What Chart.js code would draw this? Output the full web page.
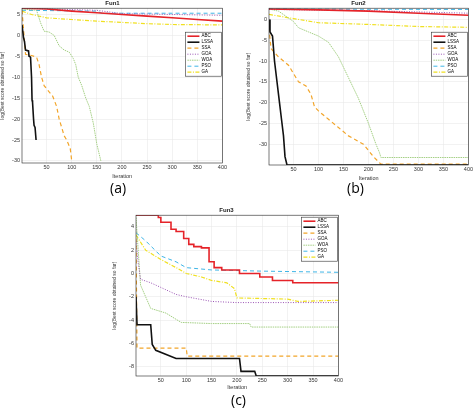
<!DOCTYPE html>
<html><head><meta charset="utf-8">
<script src="https://cdn.jsdelivr.net/npm/chart.js@4/dist/chart.umd.min.js"></script>
<style>
body{margin:0;background:#fff;width:474px;height:410px;position:relative;overflow:hidden;font-family:"Liberation Sans",Arial,sans-serif}
.c{position:absolute}
.lab{position:absolute;font-size:14px;color:#000;font-family:"Open Sans",sans-serif}
</style></head><body>
<div class="c" style="left:0;top:0;width:228px;height:180px"><canvas id="a"></canvas></div>
<div class="c" style="left:246px;top:0;width:228px;height:182px"><canvas id="b"></canvas></div>
<div class="c" style="left:112px;top:207px;width:232px;height:184px"><canvas id="c"></canvas></div>
<div class="lab" style="left:110px;top:178px">(a)</div>
<div class="lab" style="left:347px;top:178px">(b)</div>
<div class="lab" style="left:231px;top:390px">(c)</div>
<script>
const names=["ABC","LSSA","SSA","GOA","WOA","PSO","GA"];
const xTicks=[50,100,150,200,250,300,350,400];
// Fun1
const f1_ABC_x=[1,50,100,150,200,250,300,350,400], f1_ABC_y=[6.5,6.3,5.8,5.4,5,4.6,4.2,3.8,3.4];
const f1_LSSA_x=[1,4,6,8,14,15,18,20,21,22,24,25,27,29], f1_LSSA_y=[2.5,-0.5,-1.5,-3.5,-3.7,-5,-5.2,-10,-15.5,-16,-20,-21.5,-22,-25];
const f1_SSA_x=[1,3,5,8,20,30,35,40,45,55,62,70,75,80,85,90,97,100], f1_SSA_y=[6,3,0,-4.5,-4.8,-5.2,-7,-10,-12,-13.5,-14.5,-17,-20,-22,-24,-25,-27,-30];
const f1_GOA_x=[1,150,200,400], f1_GOA_y=[6.5,6,5.2,4.8];
const f1_WOA_x=[1,30,38,45,55,65,75,85,95,103,108,113,120,128,135,143,150,158], f1_WOA_y=[6.3,6,3,1,0.8,0,-2.5,-3.5,-4,-5.5,-7,-10,-12,-15,-17,-21,-26,-30];
const f1_PSO_x=[1,150,160,400], f1_PSO_y=[6,5.8,5.3,5.3];
const f1_GA_x=[1,20,50,100,150,200,250,300,400], f1_GA_y=[5.8,5,4.2,3.8,3.4,3.1,2.8,2.6,2.5];
// Fun2
const f2_ABC_x=[1,100,200,300,400], f2_ABC_y=[2.5,2.3,2,1.5,1];
const f2_LSSA_x=[1,3,8,12,18,22,26,30,33,37,400], f2_LSSA_y=[0,-3,-4,-10,-16,-20,-24,-28,-33,-35,-35];
const f2_SSA_x=[1,5,20,40,50,60,75,85,92,100,120,140,160,190,210,225,400], f2_SSA_y=[-2,-7,-9,-11,-13,-15,-16,-18,-21,-22,-24,-26,-28,-30,-33,-34.8,-34.8];
const f2_GOA_x=[1,200,400], f2_GOA_y=[2.4,2.1,1.5];
const f2_WOA_x=[1,20,50,60,80,100,120,140,160,180,200,215,222,225,400], f2_WOA_y=[2.5,2,-0.5,-2,-3,-4,-5.5,-9,-14,-19,-25,-30,-32,-33.2,-33.2];
const f2_PSO_x=[1,400], f2_PSO_y=[2.5,2.4];
const f2_GA_x=[1,50,100,200,300,400], f2_GA_y=[1.2,0.2,-0.8,-1.2,-1.7,-1.9];
// Fun3
const f3_ABC_x=[1,45,50,70,80,95,105,115,130,145,155,170,205,245,270,310,370,400], f3_ABC_y=[5,5,4.8,4.4,3.8,3.6,3,2.5,2.3,2.2,1,0.5,0.3,0,-0.3,-0.6,-0.8,-0.8];
const f3_LSSA_x=[1,3,30,33,40,80,205,208,235,238,400], f3_LSSA_y=[-2,-4.4,-4.4,-6.1,-6.6,-7.3,-7.3,-8.4,-8.4,-8.8,-8.8];
const f3_SSA_x=[1,3,100,102,400], f3_SSA_y=[3,-6.4,-6.4,-7.1,-7.1];
const f3_GOA_x=[1,5,10,30,50,80,100,150,200,400], f3_GOA_y=[2.8,1,-0.5,-0.8,-1.2,-1.8,-2,-2.4,-2.5,-2.5];
const f3_WOA_x=[1,10,20,30,60,90,150,225,228,400], f3_WOA_y=[4.8,-1,-2,-3,-3.4,-4.2,-4.3,-4.3,-4.6,-4.6];
const f3_PSO_x=[1,20,50,80,100,150,250,400], f3_PSO_y=[3.5,2.8,1.5,1,0.5,0.3,0.2,0.1];
const f3_GA_x=[1,20,50,80,100,130,150,180,195,200,300,320,400], f3_GA_y=[3.3,2,1.2,0.5,0,-0.3,-0.6,-0.8,-1.3,-2.1,-2.2,-2.4,-2.3];

const styles={ABC:{c:'#e52329',w:1.6,d:[]},LSSA:{c:'#111',w:1.6,d:[]},SSA:{c:'#f2a52a',w:1.2,d:[4,3]},
GOA:{c:'#9b55b5',w:1,d:[1,1.5]},WOA:{c:'#a4cf84',w:1,d:[1.5,0.8]},PSO:{c:'#3fb5e6',w:1,d:[4,3]},GA:{c:'#f0e020',w:1.2,d:[4,1.5,1,1.5]}};
function pts(x,y){return x.map((v,i)=>({x:v,y:y[i]}));}
const legendPlugin={id:'inleg',afterDatasetsDraw(ch,a,o){
 const ctx=ch.ctx,ca=ch.chartArea;const w=36,h=44,x=ca.right-w-1,y=ca.top+o.top;
 ctx.save();ctx.fillStyle='#fff';ctx.fillRect(x,y,w,h);ctx.strokeStyle='#333';ctx.lineWidth=0.6;ctx.strokeRect(x,y,w,h);
 ch.data.datasets.forEach((d,i)=>{const yy=y+4+i*6;ctx.strokeStyle=d.borderColor;ctx.lineWidth=d.borderWidth;ctx.setLineDash(d.borderDash);
 ctx.beginPath();ctx.moveTo(x+2,yy);ctx.lineTo(x+14,yy);ctx.stroke();ctx.setLineDash([]);
 ctx.fillStyle='#000';ctx.font='4.5px Liberation Sans';ctx.textBaseline='middle';ctx.fillText(d.label,x+16,yy);});
 ctx.restore();}};
const frame={id:'frame',afterDraw(ch){const c=ch.ctx,a=ch.chartArea;c.save();c.strokeStyle='#222';c.lineWidth=0.6;c.strokeRect(a.left,a.top,a.right-a.left,a.bottom-a.top);c.restore();}};
function make(id,title,data,ymin,ymax,yt,yw,xh,legTop,stepped){
 const ds=names.map((n,i)=>({label:n,data:pts(data[i][0],data[i][1]),borderColor:styles[n].c,borderWidth:styles[n].w,borderDash:styles[n].d,pointRadius:0,fill:false,stepped:(stepped&&n==='ABC')?'after':false,tension:0}));
 new Chart(document.getElementById(id),{type:'line',data:{datasets:ds},plugins:[legendPlugin,frame],
 options:{responsive:true,maintainAspectRatio:false,animation:false,layout:{padding:{right:3,top:0,left:0,bottom:0}},
 plugins:{legend:{display:false},tooltip:{enabled:false},inleg:{top:legTop},title:{display:true,text:title,font:{size:6,family:'Liberation Sans'},color:'#222',padding:{top:0,bottom:1}}},
 scales:{x:{type:'linear',min:1,max:400,afterBuildTicks:s=>{s.ticks=xTicks.map(v=>({value:v}));},afterFit:s=>{s.height=xh;},
  ticks:{font:{size:5.5},color:'#333',padding:1,maxRotation:0},grid:{color:'#e4e4e4',lineWidth:0.5,drawTicks:false},border:{display:false},
  title:{display:true,text:'Iteration',font:{size:5.5},color:'#333',padding:0}},
  y:{min:ymin,max:ymax,afterBuildTicks:s=>{s.ticks=yt.map(v=>({value:v}));},afterFit:s=>{s.width=yw;},
  ticks:{font:{size:5.5},color:'#333',padding:2},grid:{color:'#e4e4e4',lineWidth:0.5,drawTicks:false},border:{display:false},
  title:{display:true,text:'log(Best score obtained so far)',font:{size:5},color:'#333',padding:0}}}}});
}
make('a','Fun1',[[f1_ABC_x,f1_ABC_y],[f1_LSSA_x,f1_LSSA_y],[f1_SSA_x,f1_SSA_y],[f1_GOA_x,f1_GOA_y],[f1_WOA_x,f1_WOA_y],[f1_PSO_x,f1_PSO_y],[f1_GA_x,f1_GA_y]],-30.5,6.5,[-30,-25,-20,-15,-10,-5,0,5],22,17,24,false);
make('b','Fun2',[[f2_ABC_x,f2_ABC_y],[f2_LSSA_x,f2_LSSA_y],[f2_SSA_x,f2_SSA_y],[f2_GOA_x,f2_GOA_y],[f2_WOA_x,f2_WOA_y],[f2_PSO_x,f2_PSO_y],[f2_GA_x,f2_GA_y]],-35,2.7,[-30,-25,-20,-15,-10,-5,0],23,17,24,false);
make('c','Fun3',[[f3_ABC_x,f3_ABC_y],[f3_LSSA_x,f3_LSSA_y],[f3_SSA_x,f3_SSA_y],[f3_GOA_x,f3_GOA_y],[f3_WOA_x,f3_WOA_y],[f3_PSO_x,f3_PSO_y],[f3_GA_x,f3_GA_y]],-8.8,5,[-8,-6,-4,-2,0,2,4],24,15,2,true);
</script></body></html>
